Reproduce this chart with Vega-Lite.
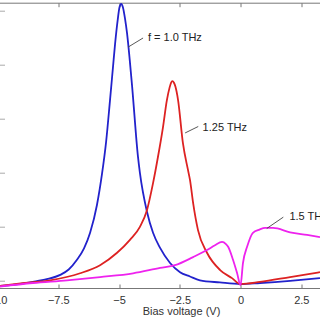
{
  "$schema": "https://vega.github.io/schema/vega-lite/v6.json",
  "width": 322.5,
  "height": 285.3,
  "autosize": {"type": "none"},
  "padding": {"left": -2.5, "top": 2.7, "right": 0, "bottom": 32},
  "background": "white",
  "config": {
    "view": {"stroke": null},
    "font": "Liberation Sans",
    "axis": {"grid": false, "domainColor": "#777777", "tickColor": "#777777", "domainWidth": 1}
  },
  "datasets": {
    "curves": [
      {"f": "1.0 THz", "v": -10, "r": -0.10},
      {"f": "1.0 THz", "v": -9.28, "r": -0.07},
      {"f": "1.0 THz", "v": -8.54, "r": -0.02},
      {"f": "1.0 THz", "v": -7.97, "r": 0.03},
      {"f": "1.0 THz", "v": -7.42, "r": 0.11},
      {"f": "1.0 THz", "v": -7.07, "r": 0.21},
      {"f": "1.0 THz", "v": -6.73, "r": 0.39},
      {"f": "1.0 THz", "v": -6.44, "r": 0.60},
      {"f": "1.0 THz", "v": -6.19, "r": 0.89},
      {"f": "1.0 THz", "v": -5.91, "r": 1.40},
      {"f": "1.0 THz", "v": -5.70, "r": 1.98},
      {"f": "1.0 THz", "v": -5.53, "r": 2.58},
      {"f": "1.0 THz", "v": -5.37, "r": 3.35},
      {"f": "1.0 THz", "v": -5.25, "r": 3.95},
      {"f": "1.0 THz", "v": -5.16, "r": 4.40},
      {"f": "1.0 THz", "v": -5.05, "r": 4.85},
      {"f": "1.0 THz", "v": -4.98, "r": 5.07},
      {"f": "1.0 THz", "v": -4.91, "r": 5.13},
      {"f": "1.0 THz", "v": -4.84, "r": 5.07},
      {"f": "1.0 THz", "v": -4.75, "r": 4.85},
      {"f": "1.0 THz", "v": -4.67, "r": 4.59},
      {"f": "1.0 THz", "v": -4.56, "r": 4.10},
      {"f": "1.0 THz", "v": -4.46, "r": 3.60},
      {"f": "1.0 THz", "v": -4.22, "r": 2.30},
      {"f": "1.0 THz", "v": -4.14, "r": 2.00},
      {"f": "1.0 THz", "v": -3.85, "r": 1.28},
      {"f": "1.0 THz", "v": -3.60, "r": 0.89},
      {"f": "1.0 THz", "v": -3.31, "r": 0.61},
      {"f": "1.0 THz", "v": -2.90, "r": 0.33},
      {"f": "1.0 THz", "v": -2.49, "r": 0.16},
      {"f": "1.0 THz", "v": -2.08, "r": 0.08},
      {"f": "1.0 THz", "v": -1.67, "r": 0.01},
      {"f": "1.0 THz", "v": -0.85, "r": -0.03},
      {"f": "1.0 THz", "v": 0, "r": -0.06},
      {"f": "1.0 THz", "v": 0.80, "r": -0.04},
      {"f": "1.0 THz", "v": 2.04, "r": 0.00},
      {"f": "1.0 THz", "v": 3.27, "r": 0.05},

      {"f": "1.25 THz", "v": -10, "r": -0.10},
      {"f": "1.25 THz", "v": -8.87, "r": -0.04},
      {"f": "1.25 THz", "v": -7.84, "r": 0.01},
      {"f": "1.25 THz", "v": -6.60, "r": 0.14},
      {"f": "1.25 THz", "v": -5.78, "r": 0.29},
      {"f": "1.25 THz", "v": -5.08, "r": 0.52},
      {"f": "1.25 THz", "v": -4.55, "r": 0.76},
      {"f": "1.25 THz", "v": -4.14, "r": 1.00},
      {"f": "1.25 THz", "v": -3.85, "r": 1.31},
      {"f": "1.25 THz", "v": -3.60, "r": 1.81},
      {"f": "1.25 THz", "v": -3.40, "r": 2.29},
      {"f": "1.25 THz", "v": -3.19, "r": 2.85},
      {"f": "1.25 THz", "v": -3.03, "r": 3.35},
      {"f": "1.25 THz", "v": -2.92, "r": 3.58},
      {"f": "1.25 THz", "v": -2.86, "r": 3.67},
      {"f": "1.25 THz", "v": -2.80, "r": 3.70},
      {"f": "1.25 THz", "v": -2.74, "r": 3.67},
      {"f": "1.25 THz", "v": -2.68, "r": 3.60},
      {"f": "1.25 THz", "v": -2.57, "r": 3.35},
      {"f": "1.25 THz", "v": -2.37, "r": 2.55},
      {"f": "1.25 THz", "v": -2.16, "r": 2.05},
      {"f": "1.25 THz", "v": -2.08, "r": 1.87},
      {"f": "1.25 THz", "v": -1.95, "r": 1.44},
      {"f": "1.25 THz", "v": -1.75, "r": 0.94},
      {"f": "1.25 THz", "v": -1.38, "r": 0.52},
      {"f": "1.25 THz", "v": -0.84, "r": 0.20},
      {"f": "1.25 THz", "v": -0.35, "r": 0.05},
      {"f": "1.25 THz", "v": 0, "r": -0.06},
      {"f": "1.25 THz", "v": 0.80, "r": -0.02},
      {"f": "1.25 THz", "v": 2.04, "r": 0.07},
      {"f": "1.25 THz", "v": 3.27, "r": 0.16},

      {"f": "1.5 THz", "v": -10, "r": -0.11},
      {"f": "1.5 THz", "v": -8.54, "r": -0.04},
      {"f": "1.5 THz", "v": -7.14, "r": 0.01},
      {"f": "1.5 THz", "v": -5.78, "r": 0.07},
      {"f": "1.5 THz", "v": -4.42, "r": 0.14},
      {"f": "1.5 THz", "v": -3.31, "r": 0.24},
      {"f": "1.5 THz", "v": -2.70, "r": 0.29},
      {"f": "1.5 THz", "v": -1.95, "r": 0.44},
      {"f": "1.5 THz", "v": -1.38, "r": 0.57},
      {"f": "1.5 THz", "v": -1.05, "r": 0.66},
      {"f": "1.5 THz", "v": -0.76, "r": 0.72},
      {"f": "1.5 THz", "v": -0.60, "r": 0.68},
      {"f": "1.5 THz", "v": -0.51, "r": 0.63},
      {"f": "1.5 THz", "v": -0.31, "r": 0.39},
      {"f": "1.5 THz", "v": -0.14, "r": 0.14},
      {"f": "1.5 THz", "v": 0, "r": -0.08},
      {"f": "1.5 THz", "v": 0.10, "r": 0.33},
      {"f": "1.5 THz", "v": 0.27, "r": 0.63},
      {"f": "1.5 THz", "v": 0.51, "r": 0.89},
      {"f": "1.5 THz", "v": 0.78, "r": 0.95},
      {"f": "1.5 THz", "v": 1.01, "r": 0.98},
      {"f": "1.5 THz", "v": 1.34, "r": 0.98},
      {"f": "1.5 THz", "v": 2.04, "r": 0.90},
      {"f": "1.5 THz", "v": 2.74, "r": 0.85},
      {"f": "1.5 THz", "v": 3.27, "r": 0.81}
    ],
    "notes": [
      {"label": "f = 1.0 THz", "x0": -4.63, "y0": 4.33, "x1": -4.01, "y1": 4.50, "tx": -3.81, "ty": 4.50},
      {"label": "1.25 THz", "x0": -2.28, "y0": 2.74, "x1": -1.74, "y1": 2.86, "tx": -1.56, "ty": 2.83},
      {"label": "1.5 THz", "x0": 1.08, "y0": 0.97, "x1": 1.76, "y1": 1.18, "tx": 2.01, "ty": 1.18}
    ]
  },
  "layer": [
    {
      "data": {"name": "curves"},
      "mark": {"type": "line", "interpolate": "monotone", "strokeWidth": 1.8, "clip": true},
      "encoding": {
        "x": {
          "field": "v", "type": "quantitative",
          "scale": {"domain": [-10, 3.27], "nice": false, "zero": false},
          "axis": {
            "orient": "bottom",
            "values": [-10, -7.5, -5, -2.5, 0, 2.5],
            "format": ".1~f",
            "title": "Bias voltage (V)",
            "tickSize": -4,
            "labelPadding": 10,
            "labelFontSize": 11,
            "labelColor": "#333333",
            "labelFlush": false,
            "labelOverlap": false,
            "labelBound": false,
            "titleFontSize": 11,
            "titleFontWeight": "normal",
            "titleColor": "#333333",
            "titlePadding": 0,
            "titleX": 183.5
          }
        },
        "y": {
          "field": "r", "type": "quantitative",
          "scale": {"domain": [-0.133, 5.154], "nice": false, "zero": false},
          "axis": {
            "orient": "left",
            "values": [0, 1, 2, 3, 4, 5],
            "labels": false,
            "title": null,
            "tickSize": -7,
            "tickColor": "#aaaaaa"
          }
        },
        "color": {
          "field": "f", "type": "nominal",
          "scale": {"domain": ["1.0 THz", "1.25 THz", "1.5 THz"], "range": ["#2222cc", "#dd2222", "#ee22ee"]},
          "legend": null
        }
      }
    },
    {
      "data": {"name": "notes"},
      "mark": {"type": "rule", "color": "#444444", "strokeWidth": 0.9},
      "encoding": {
        "x": {
          "field": "x0", "type": "quantitative",
          "axis": {
            "orient": "top",
            "values": [-10, -7.5, -5, -2.5, 0, 2.5],
            "labels": false,
            "title": null,
            "tickSize": -4
          }
        },
        "y": {"field": "y0", "type": "quantitative", "axis": null},
        "x2": {"field": "x1"},
        "y2": {"field": "y1"}
      }
    },
    {
      "data": {"name": "notes"},
      "mark": {"type": "text", "align": "left", "baseline": "middle", "fontSize": 11, "color": "#222222", "font": "Liberation Sans"},
      "encoding": {
        "x": {"field": "tx", "type": "quantitative", "axis": null},
        "y": {"field": "ty", "type": "quantitative", "axis": null},
        "text": {"field": "label"}
      }
    }
  ],
  "resolve": {"axis": {"x": "independent", "y": "independent"}}
}
